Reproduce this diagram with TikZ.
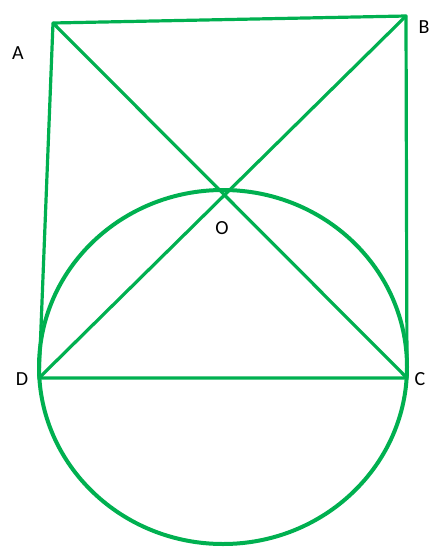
\documentclass[tikz,border=0pt]{standalone}
\usepackage{fontspec}
\setmainfont{Carlito}
\definecolor{gr}{HTML}{00B050}
\begin{document}
\begin{tikzpicture}[x=1pt,y=-1pt,
  seg/.style={draw=gr,line width=3.2pt,line cap=round,line join=round},
  lbl/.style={font=\fontsize{20}{20}\selectfont,inner sep=0pt}]
\useasboundingbox (0,0) rectangle (433,552);
\coordinate (A) at (53,23);
\coordinate (B) at (406,16);
\coordinate (C) at (407,378);
\coordinate (D) at (39,378);
\draw[draw=gr,line width=4pt] (223,367) ellipse [x radius=184, y radius=177];
\draw[seg] (A) -- (B) -- (C) -- (D) -- cycle;
\draw[seg] (A) -- (C);
\draw[seg] (B) -- (D);
\node[lbl] (lA) at (18,53) {A};
\node[lbl] (lB) at (424,27) {B};
\node[lbl] (lO) at (222,228) {O};
\node[lbl] (lD) at (22,379) {D};
\node[lbl] (lC) at (420,379) {C};
\end{tikzpicture}
\end{document}
